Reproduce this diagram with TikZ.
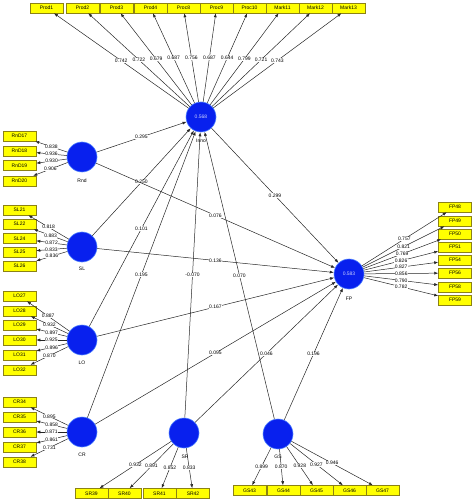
\documentclass[tikz,border=0pt]{standalone}
\usepackage{fontspec}
\setmainfont{Liberation Sans}
\usetikzlibrary{arrows.meta}
\definecolor{lvblue}{RGB}{8,32,238}
\definecolor{lvrim}{RGB}{80,130,255}
\definecolor{mvyellow}{RGB}{255,255,0}
\definecolor{mvrim}{RGB}{140,130,20}
\tikzset{
	lv/.style={circle, fill=lvblue, draw=lvrim, line width=0.6pt, minimum size=30pt, inner sep=0pt, text=white!80!lvblue, font=\fontsize{5}{6}\selectfont},
	mv/.style={rectangle, fill=mvyellow, draw=mvrim, line width=0.5pt, minimum width=33pt, minimum height=10pt, inner sep=0pt, font=\fontsize{5}{6}\selectfont},
	lvname/.style={inner sep=0pt, font=\fontsize{5}{6}\selectfont},
	coef/.style={fill=white, inner sep=0.4pt, font=\fontsize{5}{6}\selectfont},
	link/.style={draw=black!85, line width=0.5pt, -{Latex[length=4pt,width=3pt]}}
}

\begin{document}
\begin{tikzpicture}[x=1pt, y=-1pt]
			%%%%% START %%%%%
			\useasboundingbox (0,0) rectangle (474,502);
			
			\node[lv] (inno) at (201,117) {0.568};
			\node[lv] (fp) at (349,274) {0.583};
			\node[lv] (rnd) at (82,157) {};
			\node[lv] (sl) at (82,247) {};
			\node[lv] (lo) at (82,340) {};
			\node[lv] (cr) at (82,432) {};
			\node[lv] (sr) at (184,433) {};
			\node[lv] (gs) at (278,434) {};
			
			\node[lvname] (innoname) at (201,141) {Inno};
			\node[lvname] (fpname) at (349,299) {FP};
			\node[lvname] (rndname) at (82,181) {Rnd};
			\node[lvname] (slname) at (82,269) {SL};
			\node[lvname] (loname) at (82,363) {LO};
			\node[lvname] (crname) at (82,455) {CR};
			\node[lvname] (srname) at (185,457) {SR};
			\node[lvname] (gsname) at (278,457) {GS};
			
			\node[mv] (prod1) at (46.5,8) {Prod1};
			\node[mv] (prod2) at (82.5,8) {Prod2};
			\node[mv] (prod3) at (116.5,8) {Prod3};
			\node[mv] (prod4) at (150.5,8) {Prod4};
			\node[mv] (proc8) at (183.5,8) {Proc8};
			\node[mv] (proc9) at (216.5,8) {Proc9};
			\node[mv] (proc10) at (249.5,8) {Proc10};
			\node[mv] (mark11) at (282.5,8) {Mark11};
			\node[mv] (mark12) at (315.5,8) {Mark12};
			\node[mv] (mark13) at (348.5,8) {Mark13};
			
			\node[mv] (rnd17) at (19.5,136) {RnD17};
			\node[mv] (rnd18) at (19.5,151) {RnD18};
			\node[mv] (rnd19) at (19.5,165.5) {RnD19};
			\node[mv] (rnd20) at (19.5,181) {RnD20};
			
			\node[mv] (sl21) at (19.5,210) {SL21};
			\node[mv] (sl22) at (19.5,224) {SL22};
			\node[mv] (sl24) at (19.5,238.5) {SL24};
			\node[mv] (sl25) at (19.5,252) {SL25};
			\node[mv] (sl26) at (19.5,266) {SL26};
			
			\node[mv] (lo27) at (19.5,296) {LO27};
			\node[mv] (lo28) at (19.5,311) {LO28};
			\node[mv] (lo29) at (19.5,325) {LO29};
			\node[mv] (lo30) at (19.5,340) {LO30};
			\node[mv] (lo31) at (19.5,355) {LO31};
			\node[mv] (lo32) at (19.5,370) {LO32};
			
			\node[mv] (cr34) at (19.5,402) {CR34};
			\node[mv] (cr35) at (19.5,417) {CR35};
			\node[mv] (cr36) at (19.5,432) {CR36};
			\node[mv] (cr37) at (19.5,447) {CR37};
			\node[mv] (cr38) at (19.5,462) {CR38};
			
			\node[mv] (sr39) at (91.5,493.5) {SR39};
			\node[mv] (sr40) at (124.5,493.5) {SR40};
			\node[mv] (sr41) at (159.5,493.5) {SR41};
			\node[mv] (sr42) at (193,493.5) {SR42};
			
			\node[mv] (gs43) at (249.5,490.5) {GS43};
			\node[mv] (gs44) at (283.5,490.5) {GS44};
			\node[mv] (gs45) at (316.5,490.5) {GS45};
			\node[mv] (gs46) at (349.5,490.5) {GS46};
			\node[mv] (gs47) at (382.5,490.5) {GS47};
			
			\node[mv] (fp48) at (455,207) {FP48};
			\node[mv] (fp49) at (455,221) {FP49};
			\node[mv] (fp50) at (455,234) {FP50};
			\node[mv] (fp51) at (455,247) {FP51};
			\node[mv] (fp54) at (455,260) {FP54};
			\node[mv] (fp56) at (455,273) {FP56};
			\node[mv] (fp58) at (455,287) {FP58};
			\node[mv] (fp59) at (455,300) {FP59};
			
			% structural paths
			\draw[link] (rnd) -- node[coef] {0.295} (inno);
			\draw[link] (sl) -- node[coef] {0.250} (inno);
			\draw[link] (lo) -- node[coef] {0.101} (inno);
			\draw[link] (cr) -- node[coef] {0.195} (inno);
			\draw[link] (sr) -- node[coef] {-0.070} (inno);
			\draw[link] (gs) -- node[coef] {0.070} (inno);
			\draw[link] (rnd) -- node[coef] {0.076} (fp);
			\draw[link] (sl) -- node[coef] {0.136} (fp);
			\draw[link] (lo) -- node[coef] {0.167} (fp);
			\draw[link] (cr) -- node[coef] {0.095} (fp);
			\draw[link] (sr) -- node[coef] {0.046} (fp);
			\draw[link] (gs) -- node[coef] {0.196} (fp);
			\draw[link] (inno) -- node[coef] {0.299} (fp);
			
			% outer loadings
			\draw[link] (inno) -- node[coef] {0.742} (prod1);
			\draw[link] (inno) -- node[coef] {0.722} (prod2);
			\draw[link] (inno) -- node[coef] {0.679} (prod3);
			\draw[link] (inno) -- node[coef] {0.687} (prod4);
			\draw[link] (inno) -- node[coef] {0.756} (proc8);
			\draw[link] (inno) -- node[coef] {0.687} (proc9);
			\draw[link] (inno) -- node[coef] {0.644} (proc10);
			\draw[link] (inno) -- node[coef] {0.799} (mark11);
			\draw[link] (inno) -- node[coef] {0.721} (mark12);
			\draw[link] (inno) -- node[coef] {0.743} (mark13);
			
			\draw[link] (rnd) -- node[coef] {0.838} (rnd17);
			\draw[link] (rnd) -- node[coef] {0.936} (rnd18);
			\draw[link] (rnd) -- node[coef] {0.930} (rnd19);
			\draw[link] (rnd) -- node[coef] {0.906} (rnd20);
			
			\draw[link] (sl) -- node[coef] {0.818} (sl21);
			\draw[link] (sl) -- node[coef] {0.883} (sl22);
			\draw[link] (sl) -- node[coef] {0.872} (sl24);
			\draw[link] (sl) -- node[coef] {0.833} (sl25);
			\draw[link] (sl) -- node[coef] {0.836} (sl26);
			
			\draw[link] (lo) -- node[coef] {0.887} (lo27);
			\draw[link] (lo) -- node[coef] {0.932} (lo28);
			\draw[link] (lo) -- node[coef] {0.897} (lo29);
			\draw[link] (lo) -- node[coef] {0.925} (lo30);
			\draw[link] (lo) -- node[coef] {0.896} (lo31);
			\draw[link] (lo) -- node[coef] {0.870} (lo32);
			
			\draw[link] (cr) -- node[coef] {0.895} (cr34);
			\draw[link] (cr) -- node[coef] {0.858} (cr35);
			\draw[link] (cr) -- node[coef] {0.871} (cr36);
			\draw[link] (cr) -- node[coef] {0.861} (cr37);
			\draw[link] (cr) -- node[coef] {0.731} (cr38);
			
			\draw[link] (sr) -- node[coef] {0.932} (sr39);
			\draw[link] (sr) -- node[coef] {0.891} (sr40);
			\draw[link] (sr) -- node[coef] {0.852} (sr41);
			\draw[link] (sr) -- node[coef] {0.833} (sr42);
			
			\draw[link] (gs) -- node[coef] {0.899} (gs43);
			\draw[link] (gs) -- node[coef] {0.870} (gs44);
			\draw[link] (gs) -- node[coef] {0.928} (gs45);
			\draw[link] (gs) -- node[coef] {0.927} (gs46);
			\draw[link] (gs) -- node[coef] {0.946} (gs47);
			
			\draw[link] (fp) -- node[coef] {0.757} (fp48);
			\draw[link] (fp) -- node[coef] {0.821} (fp49);
			\draw[link] (fp) -- node[coef] {0.769} (fp50);
			\draw[link] (fp) -- node[coef] {0.826} (fp51);
			\draw[link] (fp) -- node[coef] {0.827} (fp54);
			\draw[link] (fp) -- node[coef] {0.856} (fp56);
			\draw[link] (fp) -- node[coef] {0.790} (fp58);
			\draw[link] (fp) -- node[coef] {0.782} (fp59);
			
			%%%%% END %%%%%
\end{tikzpicture}
\end{document}
